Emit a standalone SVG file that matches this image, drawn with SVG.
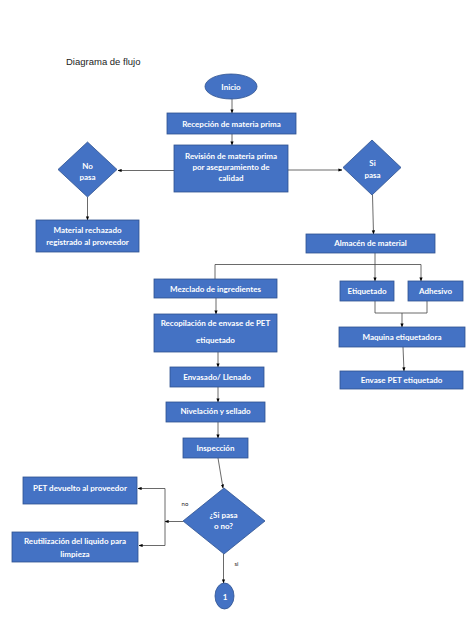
<svg xmlns="http://www.w3.org/2000/svg" width="474" height="632" viewBox="0 0 474 632">
<style>
.n{fill:#4472C4;stroke:#2F528F;stroke-width:0.8}
.t{fill:#fff;font-family:Lato,"Liberation Sans",sans-serif;font-weight:bold;font-size:8px;text-anchor:middle;dominant-baseline:central}
.c{fill:none;stroke:#444;stroke-width:0.8}
.l{fill:#222;font-family:Lato,"Liberation Sans",sans-serif;font-size:6px;text-anchor:middle;dominant-baseline:central}
</style>
<defs>
<marker id="a" viewBox="0 0 10 10" refX="9" refY="5" markerWidth="5" markerHeight="5" orient="auto"><path d="M0,1 L10,5 L0,9 z" fill="#000"/></marker>
</defs>
<rect width="474" height="632" fill="#fff"/>
<text x="66" y="65" font-family="Liberation Sans,Arial,sans-serif" font-size="9.5" fill="#222">Diagrama de flujo</text>
<g id="connectors">
<path class="c" d="M232,99 V113" marker-end="url(#a)"/>
<path class="c" d="M232,134 V145" marker-end="url(#a)"/>
<path class="c" d="M174,170.5 H118" marker-end="url(#a)"/>
<path class="c" d="M288,170 H342" marker-end="url(#a)"/>
<path class="c" d="M87.5,197 V220" marker-end="url(#a)"/>
<path class="c" d="M372.5,195 L373.5,234" marker-end="url(#a)"/>
<path class="c" d="M375,253 V281" marker-end="url(#a)"/>
<path class="c" d="M215,279 V264.5 H421 V281" marker-end="url(#a)"/>
<path class="c" d="M375,301 V313 H427 V301"/>
<path class="c" d="M402,313 V327" marker-end="url(#a)"/>
<path class="c" d="M403,347 L404,371" marker-end="url(#a)"/>
<path class="c" d="M216,298 V314" marker-end="url(#a)"/>
<path class="c" d="M218,352 V367" marker-end="url(#a)"/>
<path class="c" d="M218,387 V402" marker-end="url(#a)"/>
<path class="c" d="M218,422 V438" marker-end="url(#a)"/>
<path class="c" d="M218,458 L223,488" marker-end="url(#a)"/>
<path class="c" d="M183,521.5 H165" marker-end="url(#a)"/>
<path class="c" d="M165,488.5 V545.5"/>
<path class="c" d="M165,488.5 H138" marker-end="url(#a)"/>
<path class="c" d="M165,545.5 H139" marker-end="url(#a)"/>
<path class="c" d="M223.5,554 V583" marker-end="url(#a)"/>
</g>
<g id="inicio"><ellipse class="n" cx="231" cy="86.5" rx="26" ry="12.5"/><text class="t" x="231" y="86.5">Inicio</text></g>
<g id="recepcion"><rect class="n" x="167" y="113" width="129" height="21"/><text class="t" x="231.5" y="123.5">Recepción de materia prima</text></g>
<g id="revision"><rect class="n" x="174" y="145" width="114" height="47"/><text class="t" x="231" y="155.5">Revisión de materia prima</text><text class="t" x="231" y="166.7">por aseguramiento de</text><text class="t" x="231" y="177.5">calidad</text></g>
<g id="nopasa"><polygon class="n" points="87.5,142 117,169.5 87.5,197 58,169.5"/><text class="t" x="87.5" y="166">No</text><text class="t" x="87.5" y="177">pasa</text></g>
<g id="sipasa"><polygon class="n" points="372,140 401,167.5 372,195 343,167.5"/><text class="t" x="372.5" y="162.5">Si</text><text class="t" x="372.5" y="175">pasa</text></g>
<g id="rechazado"><rect class="n" x="36" y="220" width="103" height="32"/><text class="t" x="87.5" y="229.5">Material rechazado</text><text class="t" x="87.5" y="241.5">registrado al proveedor</text></g>
<g id="almacen"><rect class="n" x="306" y="234" width="129" height="19"/><text class="t" x="370.5" y="243">Almacén de material</text></g>
<g id="mezclado"><rect class="n" x="154" y="279" width="123" height="19"/><text class="t" x="215.5" y="288.5">Mezclado de ingredientes</text></g>
<g id="etiquetado"><rect class="n" x="340" y="281" width="54" height="20"/><text class="t" x="367" y="291">Etiquetado</text></g>
<g id="adhesivo"><rect class="n" x="408" y="281" width="55" height="20"/><text class="t" x="435.5" y="291">Adhesivo</text></g>
<g id="recopilacion"><rect class="n" x="154" y="314" width="123" height="38"/><text class="t" x="215.5" y="323">Recopilación de envase de PET</text><text class="t" x="215.5" y="339.5">etiquetado</text></g>
<g id="maquina"><rect class="n" x="339" y="327" width="126" height="20"/><text class="t" x="402" y="337">Maquina etiquetadora</text></g>
<g id="envasepet"><rect class="n" x="340" y="371" width="123" height="18"/><text class="t" x="401.5" y="380">Envase PET etiquetado</text></g>
<g id="envasado"><rect class="n" x="170" y="367" width="94" height="20"/><text class="t" x="217" y="377">Envasado/ Llenado</text></g>
<g id="nivelacion"><rect class="n" x="166" y="402" width="99" height="20"/><text class="t" x="215.5" y="411">Nivelación y sellado</text></g>
<g id="inspeccion"><rect class="n" x="183" y="438" width="65" height="20"/><text class="t" x="215.5" y="448">Inspección</text></g>
<g id="decision"><polygon class="n" points="224,488 265,521 224,554 183,521"/><text class="t" x="223.5" y="514.5">¿Si pasa</text><text class="t" x="223.5" y="525.5">o no?</text></g>
<g id="petdevuelto"><rect class="n" x="23" y="477" width="114" height="27"/><text class="t" x="80" y="488">PET devuelto al proveedor</text></g>
<g id="reutilizacion"><rect class="n" x="12" y="532" width="126" height="30"/><text class="t" x="75" y="541">Reutilización del liquido para</text><text class="t" x="75" y="554">limpieza</text></g>
<g id="conector1"><ellipse class="n" cx="224.5" cy="596" rx="9.5" ry="13"/><text class="t" x="225" y="597">1</text></g>
<text class="l" x="185" y="503.5">no</text>
<text class="l" x="236.5" y="563.5">si</text>
</svg>
